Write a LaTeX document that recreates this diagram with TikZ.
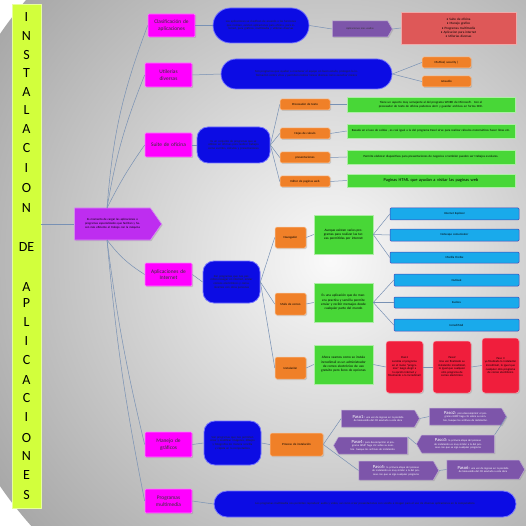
\documentclass[tikz,border=0pt]{standalone}
\usepackage{fontspec}
\setmainfont{Carlito}
\usetikzlibrary{shapes.misc,shapes.symbols,shadows}
\definecolor{bgmag}{RGB}{255,0,255}
\definecolor{bblue}{RGB}{12,12,228}
\definecolor{borange}{RGB}{240,128,40}
\definecolor{bgreen}{RGB}{72,215,55}
\definecolor{bcyan}{RGB}{25,170,235}
\definecolor{bred}{RGB}{240,30,60}
\definecolor{bredl}{RGB}{222,88,88}
\definecolor{bpurp}{RGB}{125,85,170}
\definecolor{bmain}{RGB}{190,45,240}
\definecolor{btitle}{RGB}{210,255,60}
\definecolor{conn}{RGB}{120,145,180}
\newcommand\bx[7]{%
  \pgfmathsetmacro\bxw{#5-#3}\pgfmathsetmacro\bxh{#6-#4}\pgfmathsetmacro\bxt{#5-#3-4}%
  \node[minimum width=\bxw pt, minimum height=\bxh pt, text width=\bxt pt, #2] (#1) at ({(#3+#5)/2},{(#4+#6)/2}) {#7};}
\tikzset{
  shd/.style={drop shadow={opacity=0.3,shadow xshift=1pt,shadow yshift=-1pt}},
  base/.style={inner sep=1pt, align=center, text=black},
  title/.style={base, fill=btitle, draw=btitle!50!white, line width=0.8pt, shd},
  mainst/.style={base, signal, signal to=east, signal pointer angle=110, fill=bmain, draw=bmain!55!white, line width=0.6pt, font=\fontsize{3}{3.8}\selectfont, text width=66pt, shd},
  mag/.style={base, rectangle, rounded corners=1pt, fill=bgmag, draw=bgmag!50!white, line width=0.7pt, text=black!80, font=\fontsize{5.4}{6.6}\selectfont, shd},
  blob/.style={base, rounded rectangle, fill=bblue, draw=blue!55!white, line width=0.8pt, text=black!85, font=\fontsize{3}{3.7}\selectfont},
  rblue/.style={base, rectangle, rounded corners=11pt, fill=bblue, draw=blue!55!white, line width=0.8pt, text=black!85, font=\fontsize{3}{3.7}\selectfont},
  org/.style={base, rectangle, rounded corners=1.5pt, fill=borange, draw=borange!45!white, line width=0.5pt, font=\fontsize{3.1}{3.8}\selectfont, shd},
  grn/.style={base, rectangle, fill=bgreen, draw=bgreen!45!white, line width=0.5pt, font=\fontsize{3.1}{3.9}\selectfont, shd},
  cy/.style={base, rectangle, rounded corners=1pt, fill=bcyan, draw=blue!45!gray, line width=0.5pt, font=\fontsize{3}{3.6}\selectfont},
  stp/.style={base, rectangle, rounded corners=3pt, fill=bred, draw=bred!40!white, line width=0.5pt, font=\fontsize{2.9}{3.6}\selectfont, shd},
  redbig/.style={base, rectangle, fill=bredl, draw=bredl!50!white, line width=0.5pt, font=\fontsize{3.3}{4.3}\selectfont, shd},
  parrow/.style={base, signal, signal to=east, signal pointer angle=120, fill=bpurp, draw=bpurp!50!white, line width=0.5pt, text=white, font=\fontsize{2.7}{3.3}\selectfont, shd},
  parrowl/.style={parrow, signal to=west},
  conn/.style={draw=conn, line width=0.5pt},
  letter/.style={font=\fontsize{14}{14}\selectfont, text=black, inner sep=0pt}
}
\newcommand\ps[1]{{\fontsize{4.6}{4.6}\selectfont #1}}
\begin{document}
\begin{tikzpicture}[x=1pt,y=-1pt]
\useasboundingbox (0,0) rectangle (526,526);
\begin{scope}
\clip (0,0) rectangle (526,526);
\shade[inner color=gray!4, outer color=gray!68] (330,260) circle (400);
\end{scope}
% title bar
\bx{bar}{title}{12}{4}{41}{508}{}
\foreach \l/\yy [count=\i] in {I/17,N/36,S/55,T/73,A/92,L/110,A/129,C/148,I/168,O/188,N/208,DE/247,A/287,P/303,L/322,I/341,C/360,A/380,C/398,I/417,O/438,N/456,E/475,S/495}
  \node[letter] (L\i) at (26.5,\yy) {\l};
% main node
\bx{main}{mainst}{69}{208}{156}{240}{Es momento de cargar las aplicaciones o programas especializados que facilitan y hacen más eficiente el trabajo con la máquina}
\coordinate (hubT) at (107,208);
\coordinate (hubB) at (107,240);
% categories
\bx{clas}{mag}{148}{14}{195}{37}{Clasificación de\\aplicaciones}
\bx{util}{mag}{145}{63}{192}{87}{Utilerías\\diversas}
\bx{suite}{mag}{145}{133}{192}{157}{Suite de oficina}
\bx{aplint}{mag}{145}{263}{192}{286}{Aplicaciones de\\Internet}
\bx{manejo}{mag}{145}{432}{192}{457}{Manejo de\\gráficos}
\bx{multi}{mag}{145}{489}{192}{513}{Programas\\multimedia}
% blue nodes
\bx{b1}{blob, text width=78pt}{212}{8}{310}{43}{Las aplicaciones se clasifican de acuerdo a las funciones que realizan, existen aplicaciones para oficina, para internet, para gráficos, multimedia y utilerías diversas}
\bx{b2}{blob, text width=140pt}{220}{59}{393}{89}{Son programas que ayudan a mantener el equipo en buen estado, protegen la información contra virus y permiten realizar tareas diversas como escuchar música}
\bx{b3}{rblue, text width=56pt}{197}{127}{270}{163}{Es un conjunto de programas que se utilizan en oficinas para realizar trabajos como escritos, cálculos y presentaciones}
\bx{b4}{rblue, text width=46pt}{203}{261}{260}{303}{Son programas que nos permiten navegar en internet, enviar correos electrónicos y comunicarnos con otras personas}
\bx{b5}{rblue, text width=46pt}{204}{421}{261}{465}{Son programas que nos permiten crear y modificar imágenes, dibujos y fotografías de manera sencilla y rápida en la computadora}
\bx{b6}{blob, text width=250pt}{213}{491}{517}{517}{Los programas multimedia nos permiten reproducir audio y video, así como crear presentaciones con sonido e imagen para el uso de diversas aplicaciones en la computadora}
% row 1
\bx{mas}{parrow, text width=44pt, text=black!80}{330}{21}{390}{37}{Aplicaciones mas usadas}
\bx{redl}{redbig}{401}{12}{516}{44}{• Suite de oficina\\• Manejo grafico\\• Programas multimedia\\• Aplicacion para internet\\• Utilerías diversas}
% row 2
\bx{mca}{org}{422}{57}{471}{68}{McAfee( security )}
\bx{jet}{org}{422}{76}{471}{87}{Jetaudio}
% row 3
\bx{o1}{org}{280}{99}{330}{110}{Procesador de texto}
\bx{o2}{org}{280}{128}{330}{139}{Hojas de calculo}
\bx{o3}{org}{280}{152}{330}{163}{presentaciones}
\bx{o4}{org}{280}{176}{330}{187}{Editor de paginas web}
\bx{g1}{grn}{347}{97}{515}{112}{Tiene un aspecto muy semejante al del programa WORD de Microsoft . Con el procesador de texto de oficina podemos abrir y guardar archivos en forma DOC.}
\bx{g2}{grn}{347}{124}{515}{138}{Basada en el uso de celdas , es casi igual a la del programa Excel sirve para realizar cálculos matemáticos hacer listas etc.}
\bx{g3}{grn}{347}{150}{515}{164}{Permite elaborar diapositivas para presentaciones de negocios o también pueden ser trabajos escolares.}
\bx{g4}{grn, font=\fontsize{4.4}{5}\selectfont}{347}{174}{515}{187}{Paginas HTML que ayudan a visitar las paginas web}
% row 4
\bx{nav}{org}{275}{227}{306}{248}{Navegador}
\bx{mail}{org}{275}{293}{306}{315}{Mails de correo}
\bx{inst}{org}{275}{357}{306}{379}{Instalación}
\bx{ga}{grn, font=\fontsize{3.4}{4.3}\selectfont}{314}{215}{373}{254}{Aunque existen varios programas para realizar las tareas permitidas por internet}
\bx{gb}{grn, font=\fontsize{3.4}{4.3}\selectfont}{314}{283}{373}{322}{Es una aplicación que de manera practica y sencilla permite enviar y recibir mensajes desde cualquier parte del mundo}
\bx{gc}{grn, font=\fontsize{3.4}{4.3}\selectfont}{314}{345}{373}{384}{Ahora veamos como se instala incredimail es un administrador de correo electrónico de uso gratuito pero lleno de opciones}
\bx{c1}{cy}{390}{208}{519}{220}{Internet Explorer}
\bx{c2}{cy}{390}{229}{519}{241}{Netscape comunicator}
\bx{c3}{cy}{390}{252}{519}{263}{Mozilla Firefox}
\bx{c4}{cy}{394}{274}{519}{286}{Outlook}
\bx{c5}{cy}{394}{297}{519}{308}{Eudora}
\bx{c6}{cy}{394}{319}{519}{331}{IncrediMail}
\bx{p1}{stp}{386}{341}{423}{393}{Paso1\\Localiza el programa en el menú “programas” luego elegir a la opción internet y finalmente a la incredimail}
\bx{p2}{stp}{433}{341}{471}{393}{Paso2\\Una vez finalizado su instalación incredimail, lo igual que cualquier otro programa de correo electrónico}
\bx{p3}{stp}{482}{338}{519}{393}{Paso 3\\ya finalizada la instalación incredimail, lo igual que cualquier otro programa de correo electrónico}
% row 5
\bx{proc}{org}{270}{433}{323}{456}{Proceso de instalación}
\bx{s1}{parrow, text width=64pt}{339}{410}{417}{427}{\ps{Paso1:} una vez de ingreso en la pantalla de bienvenida del CD asociado a esta obra}
\bx{s2}{parrow, text width=64pt}{427}{408}{504}{425}{\ps{Paso2:} para descomprimir el programa GIMP haga clic sobre su nombre, busque los archivos de instalación.}
\bx{s4}{parrowl, text width=58pt}{336}{437}{410}{454}{\ps{Paso4:} para descomprimir el programa GIMP haga clic sobre su nombre. busque los archivos de instalación.}
\bx{s3}{parrowl, text width=64pt}{419}{435}{497}{453}{\ps{Paso3:} la primera etapa del proceso de instalación es muy similar a la del proceso con que se siga cualquier programa}
\bx{s5}{parrow, text width=66pt}{356}{461}{436}{480}{\ps{Paso5:} la primera etapa del proceso de instalación es muy similar a la del proceso con que se siga cualquier programa}
\bx{s6}{parrow, text width=64pt}{444}{460}{522}{479}{\ps{Paso6:} una vez de ingreso en la pantalla de bienvenida del CD asociado a esta obra}
% connectors
\draw[conn] (bar.east |- main.west) -- (main.west);
\draw[conn] (hubT) to[bend left=8] (clas.west);
\draw[conn] (hubT) to[bend left=6] (util.west);
\draw[conn] (hubT) to[bend left=4] (suite.west);
\draw[conn] (hubB) to[bend right=10] (aplint.west);
\draw[conn] (hubB) to[bend right=3] (manejo.west);
\draw[conn] (hubB) to[bend right=3] (multi.west);
\draw[conn] (clas.east) -- (b1.west);
\draw[conn] (b1.east) -- (mas.west);
\draw[conn] (mas.east) -- (redl.west);
\draw[conn] (util.east) -- (b2.west);
\draw[conn] (b2.east) -- (mca.west);
\draw[conn] (b2.east) -- (jet.west);
\draw[conn] (suite.east) -- (b3.west);
\foreach \i in {1,2,3,4} {
  \draw[conn] (b3.east) -- (o\i.west);
  \draw[conn] (o\i.east) -- (g\i.west);
}
\draw[conn] (aplint.east) -- (b4.west);
\draw[conn] (b4.east) -- (nav.west);
\draw[conn] (b4.east) -- (mail.west);
\draw[conn] (b4.east) -- (inst.west);
\draw[conn] (nav.east) -- (ga.west);
\draw[conn] (mail.east) -- (gb.west);
\draw[conn] (inst.east) -- (gc.west);
\foreach \i in {1,2,3} \draw[conn] (ga.east) -- (c\i.west);
\foreach \i in {4,5,6} \draw[conn] (gb.east) -- (c\i.west);
\draw[conn] (gc.east) -- (p1.west);
\draw[conn] (p1.east) -- (p2.west);
\draw[conn] (p2.east) -- (p3.west);
\draw[conn] (manejo.east) -- (b5.west);
\draw[conn] (b5.east) -- (proc.west);
\draw[conn] (proc.east) -- (s1.west);
\draw[conn] (proc.east) -- (s5.west);
\draw[conn] (s1.east) -- (s2.west);
\draw[conn] (s2.east) -- (s3.north east);
\draw[conn] (s3.west) -- (s4.north east);
\draw[conn] (s5.east) -- (s6.west);
\draw[conn] (multi.east) -- (b6.west);
\end{tikzpicture}
\end{document}
